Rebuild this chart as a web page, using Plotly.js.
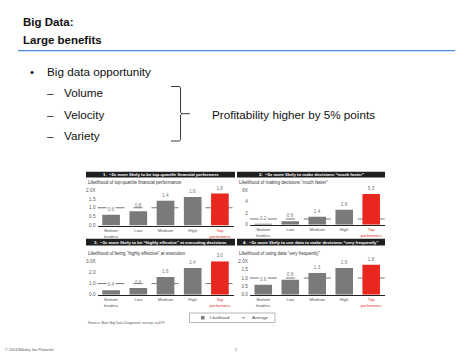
<!DOCTYPE html>
<html>
<head>
<meta charset="utf-8">
<script src="https://cdn.plot.ly/plotly-3.0.1.min.js"></script>
<style>html,body{margin:0;padding:0;background:#fff;}#chart{width:474px;height:355px;}</style>
</head>
<body>
<div id="chart"></div>
<script>
// ---- data ----
const categories = ["Bottom feeders", "Low", "Medium", "High", "Top performers"];
const catLabels = ["Bottom<br>feeders", "Low", "Medium", "High", "<span style=\"color:#e0302a\">Top</span><br><span style=\"color:#e0302a\">performers</span>"];
const fastFinancial = [0.6, 0.8, 1.4, 1.6, 1.8];
const fasterDecisions = [0.2, 0.6, 1.4, 2.6, 5.3];
const effectiveExecution = [0.4, 0.6, 1.6, 2.4, 3.0];
const dataFrequently = [0.6, 0.9, 1.3, 1.6, 1.8];
const averages = [1, 1, 1, 1];
const panelTitles = [
  "1.  ~2x more likely to be top-quartile financial performers",
  "2.  ~5x more likely to make decisions \u201cmuch faster\u201d",
  "3.  ~3x more likely to be \u201chighly effective\u201d at executing decisions",
  "4.  ~2x more likely to use data to make decisions \u201cvery frequently\u201d"
];
const panelSubtitles = [
  "Likelihood of top-quartile financial performance",
  "Likelihood of making decisions \u201cmuch faster\u201d",
  "Likelihood of being \u201chighly effective\u201d at execution",
  "Likelihood of using data \u201cvery frequently\u201d"
];
const yTickVals = [[0, 0.5, 1, 1.5, 2], [0, 2, 4, 6], [0, 1, 2, 3], [0, 0.5, 1, 1.5, 2]];
const yTickText = [["0.0", "0.5", "1.0", "1.5", "2.0X"], ["0", "2", "4", "6X"], ["0.0", "1.0", "2.0", "3.0X"], ["0.0", "0.5", "1.0", "1.5", "2.0X"]];
const yRanges = [[0, 2], [0, 6], [0, 3], [0, 2]];
const bulletItems = ["Volume", "Velocity", "Variety"];

// ---- geometry helpers ----
const W = 474, H = 355;
const px = v => v / W;
const py = v => 1 - v / H;

// panel pixel boxes: [x0, x1, yTop(at range max), yBottom(at 0)]
const boxes = [
  [97.5, 233.5, 190, 225.5],
  [249.8, 384.7, 190, 224.8],
  [97.5, 233.5, 261.3, 294.7],
  [249.8, 384.7, 261.3, 294.7]
];
const headerBoxes = [
  [86, 235, 171.7, 177.5],
  [237, 385, 171.7, 177.5],
  [86, 235, 238.7, 245.5],
  [237, 385, 238.7, 245.5]
];
const subtitleY = [182, 182, 253.5, 253.5];

const series = [fastFinancial, fasterDecisions, effectiveExecution, dataFrequently];
const gray = "#7a7a7a", red = "#e8281e";
const chartFont = "Liberation Sans, Arial, sans-serif";

const traces = [];
const layout = {
  width: W, height: H,
  margin: {l: 0, r: 0, t: 0, b: 0},
  paper_bgcolor: "#fff", plot_bgcolor: "rgba(0,0,0,0)",
  showlegend: false,
  bargap: 0.35,
  font: {family: chartFont, color: "#444"},
  shapes: [], annotations: []
};

series.forEach((vals, i) => {
  const n = i === 0 ? "" : String(i + 1);
  traces.push({
    type: "bar",
    x: categories, y: vals,
    xaxis: "x" + n, yaxis: "y" + n,
    marker: {color: categories.map((c, k) => k === categories.length - 1 ? red : gray)},
    text: vals.map(v => v.toFixed(1)),
    textposition: "outside",
    textfont: {size: 4.6, color: "#777", family: chartFont},
    cliponaxis: false,
    hoverinfo: "skip"
  });
  const b = boxes[i];
  layout["xaxis" + n] = {
    domain: [px(b[0]), px(b[1])],
    anchor: "y" + n,
    type: "category",
    tickvals: categories, ticktext: catLabels,
    tickfont: {size: 4.3, color: "#555", family: chartFont},
    showline: true, linecolor: "#222", linewidth: 1.3,
    showgrid: false, zeroline: false, ticks: "", fixedrange: true
  };
  layout["yaxis" + n] = {
    domain: [py(b[3]), py(b[2])],
    anchor: "x" + n,
    range: yRanges[i],
    tickvals: yTickVals[i], ticktext: yTickText[i],
    tickfont: {size: 4.6, color: "#555", family: chartFont},
    showgrid: false, zeroline: false, showline: false, ticks: "",
    ticklabelstandoff: 1, fixedrange: true
  };
  // average dashed line
  layout.shapes.push({
    type: "line", xref: "x" + n + " domain", yref: "y" + n,
    x0: 0, x1: 1, y0: averages[i], y1: averages[i],
    line: {color: "#555", width: 0.8, dash: "dash"}, layer: "below"
  });
  // header bar
  const h = headerBoxes[i];
  layout.shapes.push({
    type: "rect", xref: "paper", yref: "paper",
    x0: px(h[0]), x1: px(h[1]), y0: py(h[3]), y1: py(h[2]),
    fillcolor: "#1f1f1f", line: {width: 0}
  });
  layout.annotations.push({
    xref: "paper", yref: "paper", x: px((h[0] + h[1]) / 2), y: py((h[2] + h[3]) / 2),
    text: "<b>" + panelTitles[i] + "</b>", showarrow: false,
    xanchor: "center", yanchor: "middle",
    font: {size: 4.3, color: "#fff", family: chartFont}
  });
  layout.annotations.push({
    xref: "paper", yref: "paper", x: px(h[0]), y: py(subtitleY[i]),
    text: panelSubtitles[i], showarrow: false,
    xanchor: "left", yanchor: "middle",
    font: {size: 4.5, color: "#333", family: chartFont}
  });
});

// legend box
layout.shapes.push({
  type: "rect", xref: "paper", yref: "paper",
  x0: px(189.5), x1: px(275), y0: py(322.5), y1: py(313),
  line: {color: "#888", width: 0.6}, fillcolor: "rgba(0,0,0,0)"
});
layout.shapes.push({
  type: "rect", xref: "paper", yref: "paper",
  x0: px(201), x1: px(204.5), y0: py(319.5), y1: py(316),
  fillcolor: gray, line: {width: 0}
});
layout.shapes.push({
  type: "line", xref: "paper", yref: "paper",
  x0: px(242), x1: px(248), y0: py(317.8), y1: py(317.8),
  line: {color: "#555", width: 0.7, dash: "dot"}
});
layout.annotations.push(
  {xref: "paper", yref: "paper", x: px(207.5), y: py(317.8), text: "Likelihood", showarrow: false,
   xanchor: "left", yanchor: "middle", font: {size: 4.3, color: "#444", family: chartFont}},
  {xref: "paper", yref: "paper", x: px(250), y: py(317.8), text: "Average", showarrow: false,
   xanchor: "left", yanchor: "middle", font: {size: 4.3, color: "#444", family: chartFont}},
  {xref: "paper", yref: "paper", x: px(86), y: py(322.5), text: "Source: Bain Big Data Diagnostic survey, n=479", showarrow: false,
   xanchor: "left", yanchor: "middle", font: {size: 3.6, color: "#555", family: chartFont}}
);

// slide text
const slideFont = "Liberation Sans, Arial, sans-serif";
layout.annotations.push(
  {xref: "paper", yref: "paper", x: px(20.5), y: py(22), text: "<b>Big Data:</b>", showarrow: false,
   xanchor: "left", yanchor: "middle", font: {size: 11.5, color: "#111", family: slideFont}},
  {xref: "paper", yref: "paper", x: px(20.5), y: py(40), text: "<b>Large benefits</b>", showarrow: false,
   xanchor: "left", yanchor: "middle", font: {size: 11.5, color: "#111", family: slideFont}},
  {xref: "paper", yref: "paper", x: px(28), y: py(72), text: "\u2022", showarrow: false,
   xanchor: "left", yanchor: "middle", font: {size: 11.5, color: "#111", family: slideFont}},
  {xref: "paper", yref: "paper", x: px(44.5), y: py(72), text: "Big data opportunity", showarrow: false,
   xanchor: "left", yanchor: "middle", font: {size: 11.7, color: "#111", family: slideFont}},
  {xref: "paper", yref: "paper", x: px(209.5), y: py(114), text: "Profitability higher by 5% points", showarrow: false,
   xanchor: "left", yanchor: "middle", font: {size: 11.7, color: "#111", family: slideFont}},
  {xref: "paper", yref: "paper", x: px(3), y: py(350), text: "\u00a9 2014 Miko\u0142aj Jan Piskorski", showarrow: false,
   xanchor: "left", yanchor: "middle", font: {size: 3.8, color: "#555", family: slideFont}},
  {xref: "paper", yref: "paper", x: px(235.5), y: py(350), text: "2", showarrow: false,
   xanchor: "center", yanchor: "middle", font: {size: 3.8, color: "#555", family: slideFont}}
);
const bulletYs = [92.5, 114, 135.5];
bulletItems.forEach((t, k) => {
  layout.annotations.push(
    {xref: "paper", yref: "paper", x: px(45), y: py(bulletYs[k]), text: "\u2013", showarrow: false,
     xanchor: "left", yanchor: "middle", font: {size: 11.7, color: "#111", family: slideFont}},
    {xref: "paper", yref: "paper", x: px(62), y: py(bulletYs[k]), text: t, showarrow: false,
     xanchor: "left", yanchor: "middle", font: {size: 11.7, color: "#111", family: slideFont}}
  );
});

// blue rule under title
layout.shapes.push({
  type: "line", xref: "paper", yref: "paper",
  x0: px(18), x1: px(455), y0: py(50.7), y1: py(50.7),
  line: {color: "#4a8fdc", width: 1.2}
});
// brace
const bx = p => px(p), by = p => py(p);
layout.shapes.push({
  type: "path", xref: "paper", yref: "paper",
  path: "M " + bx(171) + "," + by(86.5) + " L " + bx(179.5) + "," + by(86.5) +
        " L " + bx(180.5) + "," + by(88) + " L " + bx(180.5) + "," + by(112.5) +
        " L " + bx(182) + "," + by(113.7) + " L " + bx(190) + "," + by(113.7) +
        " M " + bx(182) + "," + by(113.7) + " L " + bx(180.5) + "," + by(115) +
        " L " + bx(180.5) + "," + by(139.5) + " L " + bx(179.5) + "," + by(141) +
        " L " + bx(171) + "," + by(141),
  line: {color: "#222", width: 0.9}
});

Plotly.newPlot("chart", traces, layout, {displayModeBar: false, staticPlot: true});
</script>
</body>
</html>
